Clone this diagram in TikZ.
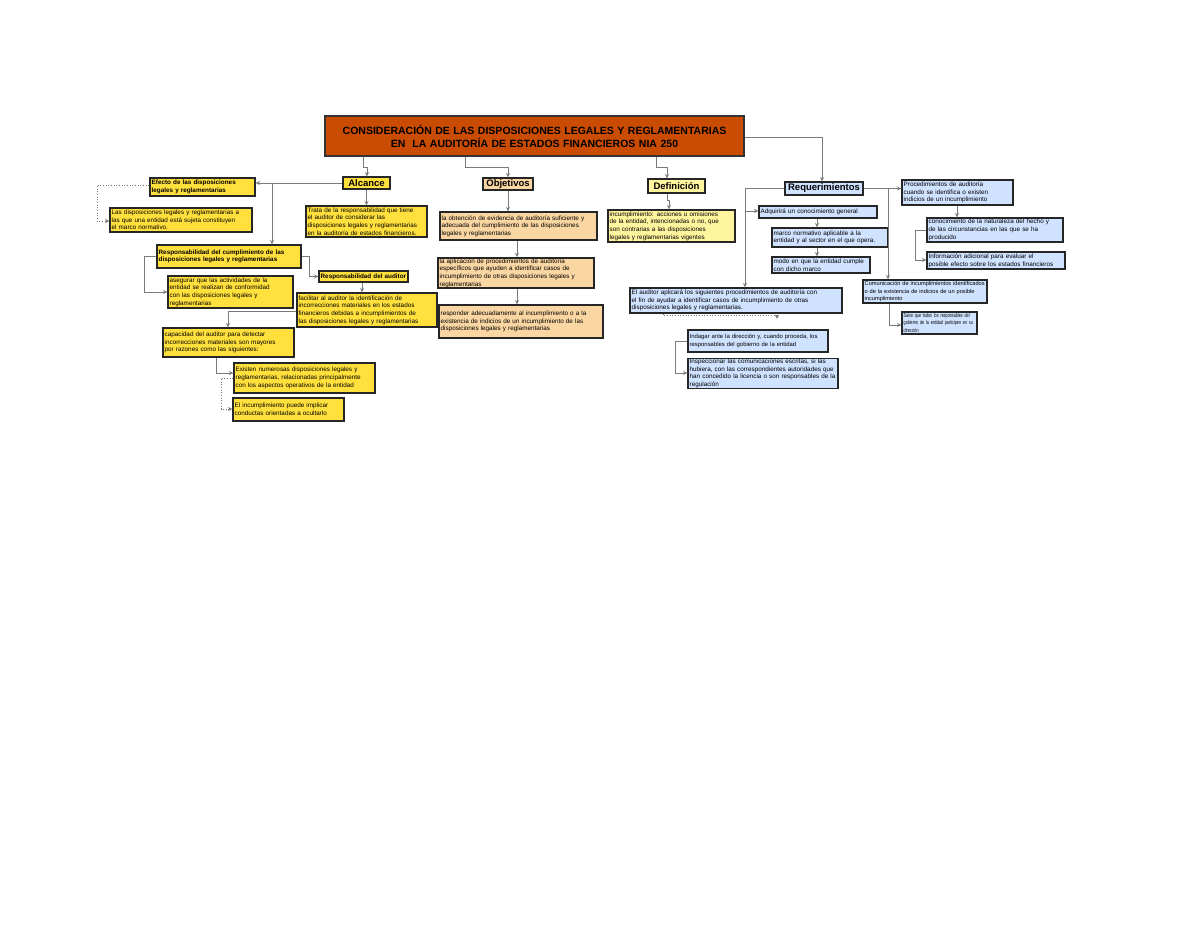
\documentclass[tikz,border=0pt]{standalone}
\usepackage{fontspec}
\setmainfont{Liberation Sans}
\newfontfamily\narrowsans[FakeStretch=0.68]{Liberation Sans}
\usetikzlibrary{arrows.meta}
\definecolor{ttlc}{HTML}{C94C02}
\definecolor{yel}{HTML}{FFE03C}
\definecolor{pch}{HTML}{FAD6A2}
\definecolor{lyl}{HTML}{FFF59E}
\definecolor{lbl}{HTML}{CFE2FF}
\definecolor{cn}{HTML}{7A7A7A}
\tikzset{
  bxs/.style={draw=black!85, line width=0.8pt, inner xsep=1pt, inner ysep=0.4pt, align=left,
    font=\fontsize{3.8}{4.6}\selectfont},
  bxb/.style={bxs, font=\bfseries\fontsize{3.8}{4.6}\selectfont},
  hd/.style={bxs, align=center, font=\bfseries\fontsize{5.7}{6.4}\selectfont},
  fs/.style={font=\fontsize{#1}{4.6}\selectfont},
  conn/.style={draw=cn, line width=0.6pt, -{Stealth[length=2.6pt,width=2.4pt]}},
  dconn/.style={conn, densely dotted},
  Y/.style={fill=yel}, P/.style={fill=pch}, L/.style={fill=lyl}, B/.style={fill=lbl}
}
\newcommand\bx[7]{%
  \pgfmathsetmacro\bw{(#5-#3)*0.6-2}%
  \pgfmathsetmacro\bh{(#6-#4)*0.6}%
  \node[#2, text width=\bw pt, minimum height=\bh pt] (#1) at ({(#3+#5)/2},{(#4+#6)/2}) {#7};}
\begin{document}
\begin{tikzpicture}[x=0.6pt,y=-0.6pt]
\fill[white] (0,0) rectangle (1200,927);
\useasboundingbox (0,0) rectangle (1200,927);
% title
\bx{ttl}{draw=black!80, line width=0.9pt, fill=ttlc, inner xsep=1pt, align=center, font=\bfseries\fontsize{6.3}{7.8}\selectfont}{325}{116}{744}{156}{CONSIDERACIÓN DE LAS DISPOSICIONES LEGALES Y REGLAMENTARIAS\\EN\ \ LA AUDITORÍA DE ESTADOS FINANCIEROS NIA 250}
% headings
\bx{alc}{hd,Y}{343}{177}{390}{189}{Alcance}
\bx{obj}{hd,P}{483}{178}{533}{190}{Objetivos}
\bx{def}{hd,L}{648}{179}{705}{193}{Definición}
\bx{req}{hd,B}{785}{182}{863}{195}{Requerimientos}
% Alcance branch
\bx{efe}{bxb,Y}{150}{178}{255}{196}{Efecto de las disposiciones\\legales y reglamentarias}
\bx{las}{bxs,Y}{110}{208}{252}{232}{Las disposiciones legales y reglamentarias a\\las que una entidad está sujeta constituyen\\el marco normativo.}
\bx{res}{bxb,Y}{157}{245}{301}{268}{Responsabilidad del cumplimiento de las\\disposiciones legales y reglamentarias}
\bx{ase}{bxs,Y}{168}{276}{293}{308}{asegurar que las actividades de la\\entidad se realizan de conformidad\\con las disposiciones legales y\\reglamentarias}
\bx{rau}{bxb,Y}{319}{271}{408}{282}{Responsabilidad del auditor}
\bx{fac}{bxs,Y}{297}{293}{437}{327}{facilitar al auditor la identificación de\\incorrecciones materiales en los estados\\financieros debidas a incumplimientos de\\las disposiciones legales y reglamentarias}
\bx{cap}{bxs,Y}{163}{328}{294}{357}{capacidad del auditor para detectar\\incorrecciones materiales son mayores\\por razones como las siguientes:}
\bx{exi}{bxs,Y}{234}{363}{375}{393}{Existen numerosas disposiciones legales y\\reglamentarias, relacionadas principalmente\\con los aspectos operativos de la entidad}
\bx{eli}{bxs,Y}{233}{398}{344}{421}{El incumplimiento puede implicar\\conductas orientadas a ocultarlo}
\bx{tra}{bxs,Y}{306}{206}{427}{237}{Trata de la responsabilidad que tiene\\el auditor de considerar las\\disposiciones legales y reglamentarias\\en la auditoría de estados financieros.}
% Objetivos
\bx{obt}{bxs,P}{440}{212}{597}{240}{la obtención de evidencia de auditoría suficiente y\\adecuada del cumplimiento de las disposiciones\\legales y reglamentarias}
\bx{apl}{bxs,P}{438}{258}{594}{288}{la aplicación de procedimientos de auditoría\\específicos que ayuden a identificar casos de\\incumplimiento de otras disposiciones legales y\\reglamentarias}
\bx{rsp}{bxs,P}{439}{305}{603}{338}{responder adecuadamente al incumplimiento o a la\\existencia de indicios de un incumplimiento de las\\disposiciones legales y reglamentarias}
% Definicion
\bx{dfb}{bxs,L}{608}{210}{735}{242}{incumplimiento: acciones u omisiones\\de la entidad, intencionadas o no, que\\son contrarias a las disposiciones\\legales y reglamentarias vigentes}
% Requerimientos
\bx{adq}{bxs,B}{759}{206}{877}{218}{Adquirirá un conocimiento general}
\bx{mar}{bxs,B}{772}{228}{888}{247}{marco normativo aplicable a la\\entidad y al sector en el que opera.}
\bx{mod}{bxs,B}{772}{257}{870}{273}{modo en que la entidad cumple\\con dicho marco}
\bx{pro}{bxs,B}{902}{180}{1013}{205}{Procedimientos de auditoría\\cuando se identifica o existen\\indicios de un incumplimiento}
\bx{con}{bxs,B}{927}{218}{1063}{242}{conocimiento de la naturaleza del hecho y\\de las circunstancias en las que se ha\\producido}
\bx{inf}{bxs,B}{927}{252}{1065}{269}{Información adicional para evaluar el\\posible efecto sobre los estados financieros}
\bx{com}{bxs,B,fs=3.4}{863}{280}{987}{303}{Comunicación de incumplimientos identificados\\o de la existencia de indicios de un posible\\incumplimiento}
\bx{sal}{bxs,B,font=\narrowsans\fontsize{3.3}{4.6}\selectfont}{902}{312}{977}{334}{\mbox{Salvo que todos los responsables del}\\\mbox{gobierno de la entidad participen en su}\\dirección}
\bx{aud}{bxs,B}{630}{288}{842}{313}{El auditor aplicará los siguientes procedimientos de auditoría con\\el fin de ayudar a identificar casos de incumplimiento de otras\\disposiciones legales y reglamentarias.}
\bx{ind}{bxs,B,fs=3.55}{688}{330}{828}{352}{Indagar ante la dirección y, cuando proceda, los\\responsables del gobierno de la entidad}
\bx{ins}{bxs,B}{688}{359}{838}{388}{Inspeccionar las comunicaciones escritas, si las\\hubiera, con las correspondientes autoridades que\\han concedido la licencia o son responsables de la\\regulación}
% connectors from title
\draw[conn] (363,0 |- ttl.south) -- (363,167) -- (367,167) -- (367,0 |- alc.north);
\draw[conn] (465,0 |- ttl.south) -- (465,167) -- (508,167) -- (508,0 |- obj.north);
\draw[conn] (656,0 |- ttl.south) -- (656,167) -- (667,167) -- (667,0 |- def.north);
\draw[conn] (ttl.east |- 0,137) -- (822,137) -- (822,0 |- req.north);
% Alcance
\draw[conn] (alc.west) -- (efe.east |- alc.west);
\draw[conn] (272,0 |- alc.west) -- (272,0 |- res.north);
\draw[conn] (alc.south) -- (alc.south |- tra.north);
\draw[dconn] (efe.west |- 0,185) -- (97,185) -- (97,221) -- (las.west |- 0,221);
\draw[conn] (res.west) -- (144,0 |- res.west) -- (144,292) -- (ase.west |- 0,292);
\draw[conn] (res.east) -- (309,0 |- res.east) -- (309,0 |- rau.west) -- (rau.west);
\draw[conn] (362,0 |- rau.south) -- (362,0 |- fac.north);
\draw[conn] (fac.west |- 0,311) -- (228,311) -- (228,0 |- cap.north);
\draw[conn] (216,0 |- cap.south) -- (216,373) -- (exi.west |- 0,373);
\draw[dconn] (exi.west |- 0,378) -- (221,378) -- (221,409) -- (eli.west |- 0,409);
% Objetivos
\draw[conn] (508,0 |- obj.south) -- (508,0 |- obt.north);
\draw[conn] (517,0 |- obt.south) -- (517,0 |- apl.north);
\draw[conn] (517,0 |- apl.south) -- (517,0 |- rsp.north);
% Definicion
\draw[conn] (667,0 |- def.south) -- (667,200) -- (669,200) -- (669,0 |- dfb.north);
% Requerimientos
\coordinate (j1) at (745,211);
\draw[conn] (req.west) -- (745,0 |- req.west) -- (745,0 |- aud.north);
\draw[conn] (j1) -- (adq.west |- j1);
\draw[conn] (817,0 |- adq.south) -- (817,0 |- mar.north);
\draw[conn] (817,0 |- mar.south) -- (817,0 |- mod.north);
\draw[conn] (req.east) -- (pro.west |- req.east);
\draw[conn] (888,0 |- req.east) -- (888,0 |- com.north);
\draw[conn] (957,0 |- pro.south) -- (957,0 |- con.north);
\draw[conn] (con.west) -- (915,0 |- con.west) -- (915,260) -- (inf.west |- 0,260);
\coordinate (j2) at (777,319);
\draw[dconn] (663,0 |- aud.south) -- (663,315) -- (777,315) -- (j2);
\draw[conn] (ind.west) -- (675,0 |- ind.west) -- (675,373) -- (ins.west |- 0,373);
\draw[conn] (889,0 |- com.south) -- (889,325) -- (sal.west |- 0,325);
\end{tikzpicture}
\end{document}
